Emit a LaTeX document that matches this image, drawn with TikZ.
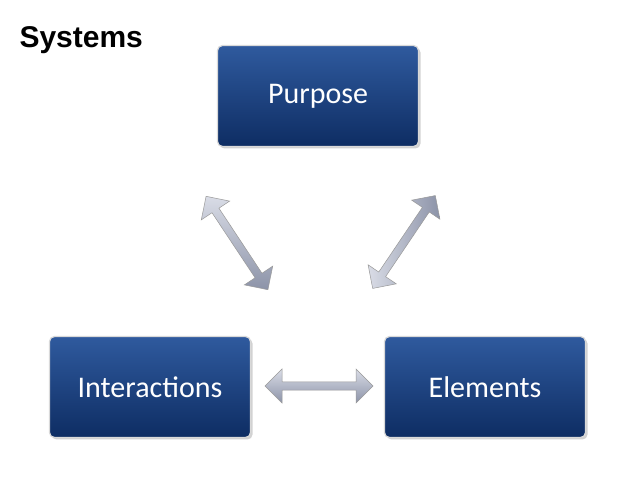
\documentclass[tikz,border=0pt]{standalone}
\usepackage{fontspec}
\setmainfont{Carlito}
\newfontfamily\hdr{Liberation Sans}
\usetikzlibrary{shapes.arrows,shadows}
\definecolor{bxtop}{HTML}{2F5A9E}
\definecolor{bxbot}{HTML}{0E2D63}
\definecolor{artop}{HTML}{D9DCE6}
\definecolor{arbot}{HTML}{8C93A8}
\tikzset{
 box/.style={draw=white!70!gray,line width=1.2pt,rounded corners=5pt,top color=bxtop,bottom color=bxbot,
   minimum width=201pt,minimum height=101pt,text=white,font=\fontsize{30}{32}\selectfont,
   drop shadow={opacity=0.35,shadow xshift=2pt,shadow yshift=-2pt}},
 dar/.style={double arrow,draw=gray!80,line width=0.5pt,left color=artop,right color=arbot,
   minimum height=#1,minimum width=34pt,double arrow head extend=7pt,inner sep=2pt,double arrow head indent=0pt}
}
\begin{document}
\begin{tikzpicture}[x=1pt,y=-1pt]
\useasboundingbox[fill=white] (0,0) rectangle (638,478);
\node[anchor=west,font=\hdr\bfseries\fontsize{30}{32}\selectfont] (t) at (16,40) {Systems};
\node[box] (p) at (318,96) {Purpose};
\node[box] (i) at (150,387) {Interactions};
\node[box] (e) at (485,387) {Elements};
\node[dar=112pt,shape border rotate=0,rotate=-56.5,shading angle=0] (a1) at (237,243) {};
\node[dar=112pt,rotate=56] (a2) at (404,242) {};
\node[dar=108pt,top color=artop,bottom color=arbot] (a3) at (319,386) {};
\end{tikzpicture}
\end{document}
